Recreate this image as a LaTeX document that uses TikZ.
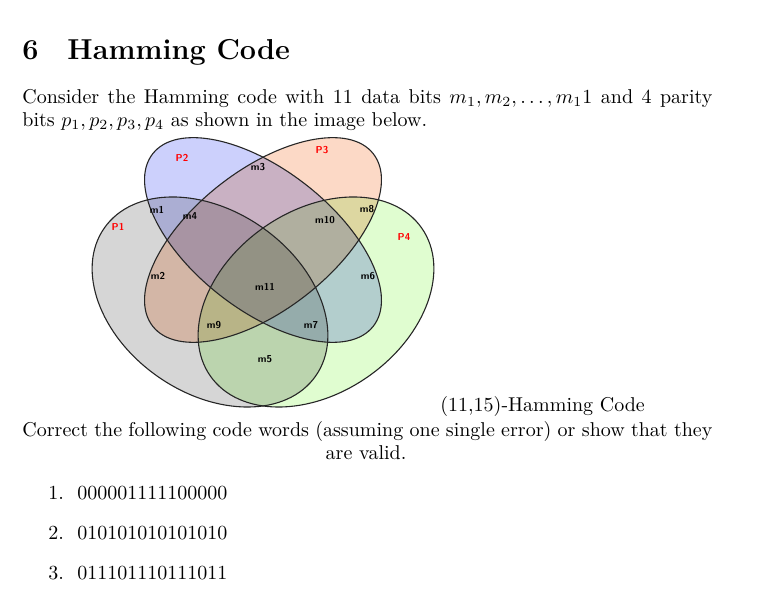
\documentclass[tikz,border=0pt]{standalone}
\usepackage{amsmath}
\begin{document}
\begin{tikzpicture}[x=0.5pt,y=0.5pt,
  lbl/.style={font=\sffamily\bfseries\fontsize{5}{6}\selectfont,inner sep=0pt},
  plbl/.style={lbl,text=red},
  txt/.style={anchor=base west,inner sep=0pt},
  outline/.style={draw=black!85,line width=0.55pt}]
\definecolor{cA}{HTML}{D6D6D6}
\definecolor{cB}{HTML}{CCD0FC}
\definecolor{cC}{HTML}{FCD9C6}
\definecolor{cD}{HTML}{E0FDD0}
\useasboundingbox (0,0) rectangle (765,-613);
% text
\node[txt] (title) at (22,-60) {\Large\bfseries 6\quad Hamming Code};
\node[txt] (l1) at (22,-104) {\makebox[345pt][s]{Consider the Hamming code with 11 data bits $m_1, m_2, \ldots, m_11$ and 4 parity}};
\node[txt] (l2) at (22,-127) {bits $p_1, p_2, p_3, p_4$ as shown in the image below.};
% venn
\begin{scope}[blend group=multiply]
\fill[cA] (210,-302) ellipse [x radius=129,y radius=91,rotate=-35];
\fill[cD] (316,-302) ellipse [x radius=129,y radius=91,rotate=35];
\fill[cB] (263,-240) ellipse [x radius=140,y radius=70,rotate=-38];
\fill[cC] (263,-240) ellipse [x radius=140,y radius=70,rotate=38];
\end{scope}
\draw[outline] (210,-302) ellipse [x radius=129,y radius=91,rotate=-35];
\draw[outline] (316,-302) ellipse [x radius=129,y radius=91,rotate=35];
\draw[outline] (263,-240) ellipse [x radius=140,y radius=70,rotate=-38];
\draw[outline] (263,-240) ellipse [x radius=140,y radius=70,rotate=38];
\node[plbl] (p1) at (118,-227) {P1};
\node[plbl] (p2) at (182,-158) {P2};
\node[plbl] (p3) at (322,-150) {P3};
\node[plbl] (p4) at (404,-237) {P4};
\node[lbl] (m1) at (157,-210) {m1};
\node[lbl] (m2) at (158,-276) {m2};
\node[lbl] (m3) at (258,-167) {m3};
\node[lbl] (m4) at (190,-216) {m4};
\node[lbl] (m5) at (265,-359) {m5};
\node[lbl] (m6) at (368,-276) {m6};
\node[lbl] (m7) at (311,-325) {m7};
\node[lbl] (m8) at (367,-209) {m8};
\node[lbl] (m9) at (214,-325) {m9};
\node[lbl] (m10) at (325,-220) {m10};
\node[lbl] (m11) at (265,-287) {m11};
% caption and rest
\node[txt] (cap) at (440,-412) {(11,15)-Hamming Code};
\node[txt] (c1) at (22,-437) {\makebox[345pt][s]{Correct the following code words (assuming one single error) or show that they}};
\node[anchor=base,inner sep=0pt] (c2) at (366,-460) {are valid.};
\node[txt] (i1) at (48,-500) {1.\ \ 000001111100000};
\node[txt] (i2) at (48,-540) {2.\ \ 010101010101010};
\node[txt] (i3) at (48,-580) {3.\ \ 011101110111011};
\end{tikzpicture}
\end{document}
